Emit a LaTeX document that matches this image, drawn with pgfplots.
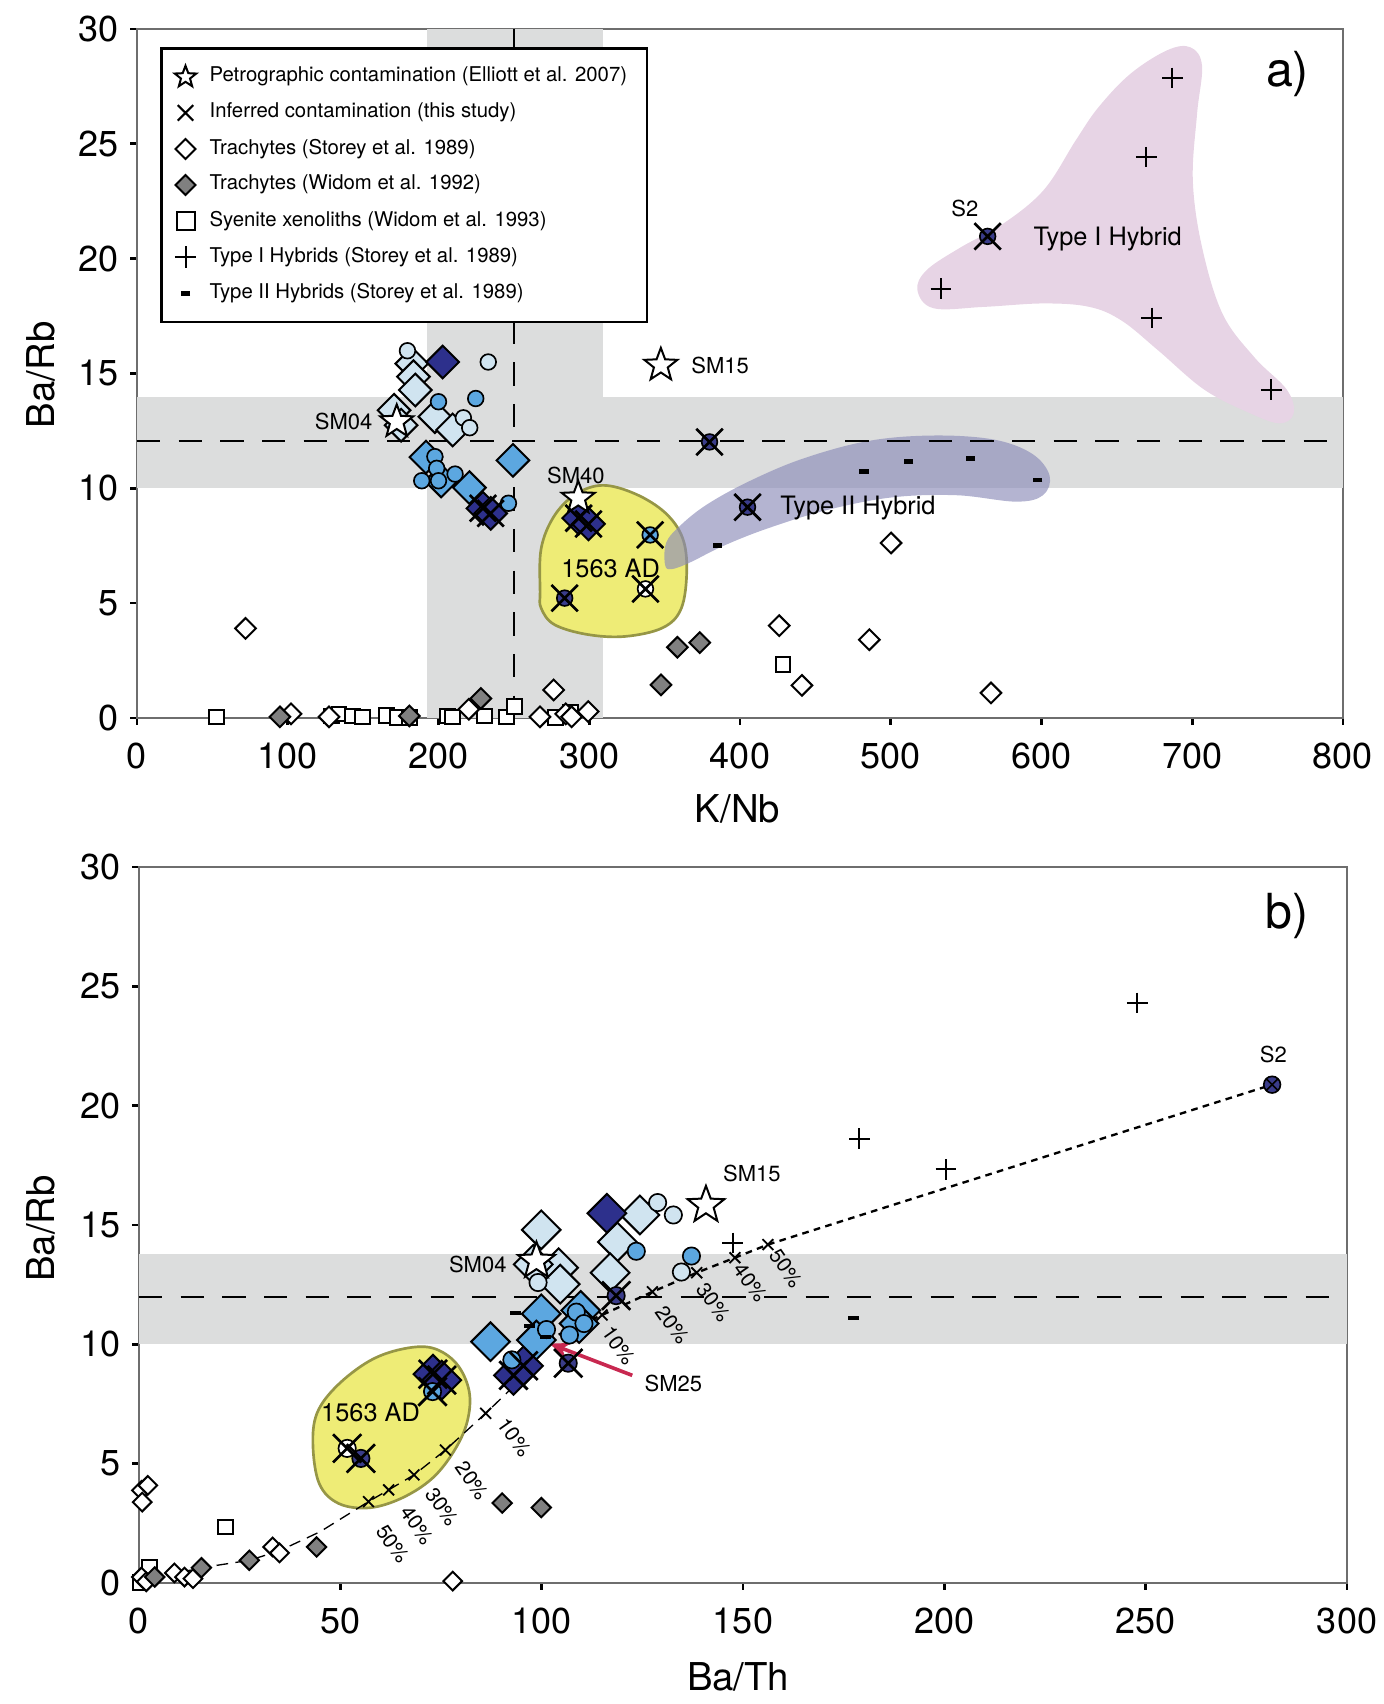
\documentclass[border=0pt]{standalone}
\usepackage{fontspec}
\setmainfont{TeX Gyre Heros}
\usepackage{pgfplots}
\pgfplotsset{compat=1.18}
\usetikzlibrary{plotmarks,arrows.meta}

\definecolor{bandgray}{RGB}{220,221,221}
\definecolor{paleblue}{RGB}{208,228,240}
\definecolor{medblue}{RGB}{92,167,224}
\definecolor{navy}{RGB}{45,48,140}
\definecolor{darkcirc}{RGB}{58,60,138}
\definecolor{graydia}{RGB}{128,128,128}
\definecolor{yellowblob}{RGB}{238,236,118}
\definecolor{yellowedge}{RGB}{150,150,70}
\definecolor{pinkblob}{RGB}{231,212,229}
\definecolor{purpleblob}{RGB}{140,140,185}
\definecolor{crimson}{RGB}{200,40,80}
\definecolor{axisgray}{RGB}{110,110,110}

\pgfdeclareplotmark{ostar}{%
 \pgfpathmoveto{\pgfqpointpolar{90}{\pgfplotmarksize}}%
 \pgfpathlineto{\pgfqpointpolar{126}{0.42\pgfplotmarksize}}%
 \pgfpathlineto{\pgfqpointpolar{162}{\pgfplotmarksize}}%
 \pgfpathlineto{\pgfqpointpolar{198}{0.42\pgfplotmarksize}}%
 \pgfpathlineto{\pgfqpointpolar{234}{\pgfplotmarksize}}%
 \pgfpathlineto{\pgfqpointpolar{270}{0.42\pgfplotmarksize}}%
 \pgfpathlineto{\pgfqpointpolar{306}{\pgfplotmarksize}}%
 \pgfpathlineto{\pgfqpointpolar{342}{0.42\pgfplotmarksize}}%
 \pgfpathlineto{\pgfqpointpolar{18}{\pgfplotmarksize}}%
 \pgfpathlineto{\pgfqpointpolar{54}{0.42\pgfplotmarksize}}%
 \pgfpathclose
 \pgfusepathqfillstroke}
\pgfdeclareplotmark{rdia}{%
 \pgfpathmoveto{\pgfqpoint{0pt}{\pgfplotmarksize}}%
 \pgfpathlineto{\pgfqpoint{\pgfplotmarksize}{0pt}}%
 \pgfpathlineto{\pgfqpoint{0pt}{-\pgfplotmarksize}}%
 \pgfpathlineto{\pgfqpoint{-\pgfplotmarksize}{0pt}}%
 \pgfpathclose
 \pgfusepathqfillstroke}

\newcommand\fSM{\fontsize{6.6}{7.5}\selectfont}
\newcommand\fHy{\fontsize{7.6}{9}\selectfont}
\newcommand\fP{\fontsize{6.2}{7}\selectfont}
\newcommand\fPanel{\fontsize{14.5}{16}\selectfont}

\pgfplotsset{
 myaxis/.style={
  scale only axis, clip=false,
  axis line style={draw=axisgray, line width=0.8pt},
  tick align=outside, tick pos=left,
  major tick length=2pt,
  tick style={black, line width=0.8pt},
  tick label style={font=\fontsize{10.8}{12}\selectfont},
  xticklabel style={yshift=-2pt},
  /pgf/number format/assume math mode=true,
  ymin=0, ymax=30, ytick={0,5,...,30},
  label style={font=\fontsize{11.5}{13}\selectfont},
 },
 paleD/.style={only marks, forget plot, mark=rdia, mark options={fill=paleblue, draw=black, line width=0.6pt}},
 medD/.style={only marks, forget plot, mark=rdia, mark options={fill=medblue, draw=black, line width=0.6pt}},
 navyD/.style={only marks, forget plot, mark=rdia, mark options={fill=navy, draw=black, line width=0.6pt}},
 paleC/.style={only marks, forget plot, mark=*, mark options={fill=paleblue, draw=black, line width=0.5pt}},
 medC/.style={only marks, forget plot, mark=*, mark options={fill=medblue, draw=black, line width=0.5pt}},
 darkC/.style={only marks, forget plot, mark=*, mark options={fill=darkcirc, draw=black, line width=0.5pt}},
 openC/.style={only marks, forget plot, mark=*, mark options={fill=white, draw=black, line width=0.5pt}},
 starM/.style={only marks, forget plot, mark=ostar, mark options={fill=white, draw=black, line width=0.6pt}},
 openD/.style={only marks, forget plot, mark=rdia, mark options={fill=white, draw=black, line width=0.6pt}},
 grayD/.style={only marks, forget plot, mark=rdia, mark options={fill=graydia, draw=black, line width=0.6pt}},
 sqM/.style={only marks, forget plot, mark=square*, mark options={fill=white, draw=black, line width=0.6pt}},
 plusM/.style={only marks, forget plot, mark=+, mark options={draw=black, line width=0.6pt}},
 minusM/.style={only marks, forget plot, mark=-, mark options={draw=black, line width=1.4pt}},
 xM/.style={only marks, forget plot, mark=x, mark options={draw=black, line width=0.8pt}},
}

\begin{document}
\begin{tikzpicture}
\useasboundingbox (0,0) rectangle (414.9pt,511.2pt);

% ---------------- panel a ----------------
\begin{axis}[myaxis, at={(41.1pt,295.8pt)}, anchor=south west,
  width=361.8pt, height=206.7pt,
  xmin=0, xmax=800, xtick={0,100,...,800},
  xlabel={K/Nb}, ylabel={Ba/Rb},
  xlabel style={at={(axis description cs:0.498,-0.132)}, anchor=center},
  ylabel style={at={(axis description cs:-0.0796,0.498)}, anchor=center},
  legend style={at={(axis cs:15.3,29.21)}, anchor=north west, draw=black, line width=0.8pt,
     fill=white, font=\fontsize{6.1}{7}\selectfont, row sep=0.8pt, inner xsep=4pt, inner ysep=3.6pt,
     /tikz/every odd column/.append style={column sep=2pt}},
  legend cell align=left,
]
% bands
\fill[bandgray] (axis cs:192.4,0) rectangle (axis cs:309,30);
\fill[bandgray] (axis cs:0,10) rectangle (axis cs:800,13.96);
% blobs
\fill[pinkblob] plot[smooth cycle, tension=0.6] coordinates {
 (698.9,29.2) (706.5,28.4) (703.2,26.3) (700.4,23.4) (706.5,20.5) (720.1,17.6)
 (741.3,15.7) (762.7,14.3) (767.3,13.27) (758.1,12.83) (738.3,13.27) (707.9,14.3)
 (677.5,16.0) (653.2,17.3) (631.8,17.9) (601.5,18.05) (561.9,17.9) (528.4,17.84)
 (517.7,18.63) (523.8,19.5) (546.6,20.5) (574.1,21.5) (601.5,22.99) (622.8,25.16)
 (637.9,26.6) (659.2,28.06) (683.6,29.08)};
\filldraw[fill=yellowblob, draw=yellowedge, line width=0.8pt] plot[smooth cycle, tension=0.6] coordinates {
 (267.4,5.49) (268.1,7.38) (276.8,8.8) (291.2,9.75) (309.2,10.13) (330.8,9.75)
 (350.3,8.94) (361.8,7.86) (364.7,6.44) (361.1,4.78) (348.8,3.93) (323.6,3.55)
 (298.4,3.64) (276.8,4.07) (268.1,4.78)};
\fill[purpleblob, opacity=0.65] plot[smooth cycle, tension=0.6] coordinates {
 (350.3,6.67) (351,7.62) (359.6,8.33) (377.7,9.28) (406.5,10.32) (442.5,11.31)
 (485.8,12.07) (529,12.3) (568.6,12.12) (593.9,11.5) (605.4,10.55) (601,9.7)
 (583.1,9.42) (543.4,9.7) (500.2,9.6) (456.9,9.04) (417.3,8.23) (388.5,7.48)
 (366.8,6.77) (354.6,6.48)};
% dashed reference lines
\addplot[forget plot, black, line width=0.6pt, dash pattern=on 7pt off 5.5pt] coordinates {(0,12.05) (800,12.05)};
\addplot[forget plot, black, line width=0.6pt, dash pattern=on 7pt off 5.5pt] coordinates {(250,30) (250,0)};
% data
\addplot[sqM, mark size=2.2pt] coordinates {(52.7,0.05) (128.9,0.08) (133.9,0.18) (143.1,0.08) (149.6,0.05) (165.3,0.11) (172.7,0.02) (180.7,0.02) (205.9,0.08) (209.5,0.05) (230.5,0.08) (245.3,0.05) (250.4,0.5) (277.6,0.02) (287.4,0.23) (428.5,2.32)};
\addplot[openD, mark size=3.1pt] coordinates {(72,3.9) (102.2,0.18) (127.4,0.05) (220.1,0.38) (267.3,0.05) (276.4,1.22) (284.4,0.18) (288.3,0.05) (299.3,0.28) (426,4.02) (441.1,1.42) (485.8,3.41) (500.2,7.62) (566.5,1.09)};
\addplot[grayD, mark size=3.1pt] coordinates {(94.8,0.05) (180.7,0.09) (228.1,0.85) (347.6,1.44) (358.5,3.08) (373.3,3.28)};
\addplot[paleD, mark size=4.9pt] coordinates {(182.3,15.43) (183.4,14.86) (184.6,14.28) (170.5,13.4) (175.2,12.75) (197.6,13.12) (209.4,12.54)};
\addplot[navyD, mark size=4.9pt] coordinates {(202.8,15.5) (229.5,9.13) (234.6,8.91) (293,8.7) (299.5,8.45)};
\addplot[medD, mark size=4.9pt] coordinates {(191.7,11.36) (201.8,10.32) (220.5,10.03) (249.4,11.22)};
\addplot[paleC, mark size=2.35pt] coordinates {(179.4,15.99) (233,15.5) (216.5,13.07) (220.7,12.64)};
\addplot[medC, mark size=2.35pt] coordinates {(200,13.77) (224.7,13.91) (197.6,11.38) (198.8,10.87) (211,10.62) (188.9,10.33) (200,10.33) (246.4,9.35) (340.4,7.97)};
\addplot[darkC, mark size=2.35pt] coordinates {(379.8,12.02) (405,9.18) (564.3,20.97) (283.7,5.22)};
\addplot[openC, mark size=2.35pt] coordinates {(337.3,5.62)};
\addplot[starM, mark size=5.2pt] coordinates {(172.3,12.9) (292.7,9.57) (347.5,15.36)};
\addplot[xM, mark size=5.6pt] coordinates {(379.8,12.02) (405,9.18) (564.3,20.97) (283.7,5.22) (337.3,5.62) (340.4,7.97) (293,8.7) (299.5,8.45) (229.5,9.13) (234.6,8.91)};
\addplot[plusM, mark size=3.1pt] coordinates {(686.9,27.87) (669.5,24.42) (533.3,18.69) (673.1,17.42) (752.4,14.29)};
\addplot[minusM, mark size=1.4pt] coordinates {(482.2,10.74) (511.7,11.17) (552.8,11.31) (597.5,10.36) (384.9,7.52)};
% labels
\node[font=\fSM, anchor=east] at (axis cs:164,12.9) {SM04};
\node[font=\fSM] at (axis cs:291.2,10.55) {SM40};
\node[font=\fSM, anchor=west] at (axis cs:360,15.33) {SM15};
\node[font=\fSM] at (axis cs:549.2,22.2) {S2};
\node[font=\fHy, anchor=west] at (axis cs:587,20.87) {Type I Hybrid};
\node[font=\fHy, anchor=west] at (axis cs:419,9.13) {Type II Hybrid};
\node[font=\fHy] at (axis cs:314.2,6.53) {1563 AD};
\node[font=\fPanel] at (axis cs:763.2,28.06) {a)};
% legend
\addlegendimage{only marks, mark=ostar, mark size=3.4pt, mark options={fill=white, draw=black, line width=0.6pt}}
\addlegendentry{Petrographic contamination (Elliott et al. 2007)}
\addlegendimage{only marks, mark=x, mark size=3.3pt, mark options={draw=black, line width=0.6pt}}
\addlegendentry{Inferred contamination (this study)}
\addlegendimage{only marks, mark=rdia, mark size=3pt, mark options={fill=white, draw=black, line width=0.6pt}}
\addlegendentry{Trachytes (Storey et al. 1989)}
\addlegendimage{only marks, mark=rdia, mark size=3pt, mark options={fill=graydia, draw=black, line width=0.6pt}}
\addlegendentry{Trachytes (Widom et al. 1992)}
\addlegendimage{only marks, mark=square*, mark size=2.7pt, mark options={fill=white, draw=black, line width=0.6pt}}
\addlegendentry{Syenite xenoliths (Widom et al. 1993)}
\addlegendimage{only marks, mark=+, mark size=3.2pt, mark options={draw=black, line width=0.6pt}}
\addlegendentry{Type I Hybrids (Storey et al. 1989)}
\addlegendimage{only marks, mark=-, mark size=1.4pt, mark options={draw=black, line width=1.4pt}}
\addlegendentry{Type II Hybrids (Storey et al. 1989)}
\end{axis}

% ---------------- panel b ----------------
\begin{axis}[myaxis, at={(41.7pt,36.3pt)}, anchor=south west,
  width=362.4pt, height=214.8pt,
  xmin=0, xmax=300, xtick={0,50,...,300},
  xlabel={Ba/Th}, ylabel={Ba/Rb},
  xlabel style={at={(axis description cs:0.496,-0.131)}, anchor=center},
  ylabel style={at={(axis description cs:-0.0811,0.495)}, anchor=center},
]
\fill[bandgray] (axis cs:0,10) rectangle (axis cs:300,13.8);
\filldraw[fill=yellowblob, draw=yellowedge, line width=0.8pt] plot[smooth cycle, tension=0.6] coordinates {
 (43.2,5.75) (44.2,7.11) (49.1,8.25) (57.2,9.3) (65.3,9.8) (72.8,9.85) (78.8,9.2)
 (82,8.03) (81.5,6.75) (78.2,5.52) (72.8,4.38) (65.3,3.56) (57.2,3.15) (49.6,3.33) (44.8,4.15)};
\addplot[forget plot, black, line width=0.6pt, dash pattern=on 7pt off 5.5pt] coordinates {(0,12) (300,12)};
% mixing curves
\addplot[forget plot, black, line width=0.4pt, dash pattern=on 3.5pt off 2.2pt] coordinates {
 (101.5,10.2) (97.6,9.3) (92.8,8.2) (86.1,7.11) (76.1,5.57) (68.3,4.53) (62,3.9) (57,3.41)
 (45,2.15) (34.9,1.35) (27.4,0.95) (15.5,0.64) (9,0.4)};
\addplot[forget plot, black, line width=0.7pt, dash pattern=on 2pt off 1.6pt] coordinates {
 (101.5,10.2) (115,11.23) (127.5,12.2) (138.5,13.0) (148,13.63) (156.2,14.18) (281.4,20.88)};
\addplot[xM, mark size=2.3pt, mark options={line width=0.55pt}] coordinates {
 (57,3.41) (62,3.9) (68.3,4.53) (76.1,5.57) (86.1,7.11)
 (115,11.23) (127.5,12.2) (138.5,13.0) (148,13.63) (156.2,14.18)};
% data
\addplot[sqM, mark size=2.15pt] coordinates {(2.6,0.67) (21.5,2.35) (0.2,0.02)};
\addplot[openD, mark size=2.8pt] coordinates {(0.6,0.25) (1.8,0.05) (8.8,0.42) (11.3,0.25) (13.4,0.18) (33.2,1.51) (34.9,1.26) (77.9,0.08) (0.6,3.88) (2.2,4.09) (0.8,3.39)};
\addplot[grayD, mark size=2.9pt] coordinates {(3.9,0.25) (15.5,0.64) (27.4,0.95) (44.1,1.51) (90.2,3.35) (99.9,3.16)};
\addplot[paleD, mark size=5.8pt] coordinates {(99.9,14.8) (104.2,13.21) (104.6,12.52) (118.8,14.29) (124.4,15.42) (117,13.0) (97.9,13.35)};
\addplot[navyD, mark size=5.8pt] coordinates {(116.2,15.49) (95.5,9.1) (93,8.7) (73,8.75) (75.2,8.5)};
\addplot[medD, mark size=5.8pt] coordinates {(87.3,10.11) (99.9,11.28) (109.7,11.42) (109.3,10.87) (98.7,10.18)};
\addplot[paleC, mark size=2.6pt] coordinates {(128.8,15.94) (132.7,15.42) (99.1,12.59) (134.7,13.03)};
\addplot[medC, mark size=2.6pt] coordinates {(123.5,13.9) (137.2,13.7) (108.6,11.35) (110.5,10.87) (106.9,10.39) (101.2,10.62) (92.6,9.35) (72.9,8.02)};
\addplot[darkC, mark size=2.6pt] coordinates {(118.5,12.04) (106.6,9.21) (55.1,5.22)};
\addplot[openC, mark size=2.6pt] coordinates {(51.7,5.64)};
\addplot[only marks, forget plot, mark=otimes*, mark size=2.5pt, mark options={fill=darkcirc, draw=black, line width=0.5pt}] coordinates {(281.4,20.88)};
\addplot[starM, mark size=5.8pt] coordinates {(140.8,15.83) (98.7,13.49)};
\addplot[xM, mark size=6pt] coordinates {(51.7,5.64) (55.1,5.22) (72.9,8.02) (73,8.75) (75.2,8.5) (93,8.7) (95.5,9.1) (106.6,9.21) (118.5,12.04)};
\addplot[plusM, mark size=3.1pt] coordinates {(247.9,24.3) (178.9,18.62) (200.4,17.33) (147.4,14.25)};
\addplot[minusM, mark size=1.6pt, mark options={line width=1.2pt}] coordinates {(93.5,11.3) (97,10.75) (101,10.3) (177.5,11.1)};
% arrow and labels
\draw[crimson, line width=1.1pt, -{Stealth[length=6pt,width=5pt]}] (axis cs:122.5,8.7) -- (axis cs:102,10.03);
\node[font=\fSM] at (axis cs:132.7,8.34) {SM25};
\node[font=\fSM] at (axis cs:152.2,17.15) {SM15};
\node[font=\fSM, anchor=east] at (axis cs:94.2,13.36) {SM04};
\node[font=\fSM] at (axis cs:281.7,22.16) {S2};
\node[font=\fHy] at (axis cs:57.5,7.16) {1563 AD};
\node[font=\fPanel] at (axis cs:285.2,27.95) {b)};
\node[font=\fP, rotate=-55] at (axis cs:93.3,6.11) {10\%};
\node[font=\fP, rotate=-55] at (axis cs:82.8,4.29) {20\%};
\node[font=\fP, rotate=-55] at (axis cs:75.3,3.19) {30\%};
\node[font=\fP, rotate=-55] at (axis cs:69.1,2.42) {40\%};
\node[font=\fP, rotate=-55] at (axis cs:63.1,1.64) {50\%};
\node[font=\fP, rotate=-55] at (axis cs:119.2,9.94) {10\%};
\node[font=\fP, rotate=-55] at (axis cs:132.5,10.81) {20\%};
\node[font=\fP, rotate=-55] at (axis cs:142.7,11.76) {30\%};
\node[font=\fP, rotate=-55] at (axis cs:151.9,12.59) {40\%};
\node[font=\fP, rotate=-55] at (axis cs:160.8,13.18) {50\%};
\end{axis}
\end{tikzpicture}
\end{document}
